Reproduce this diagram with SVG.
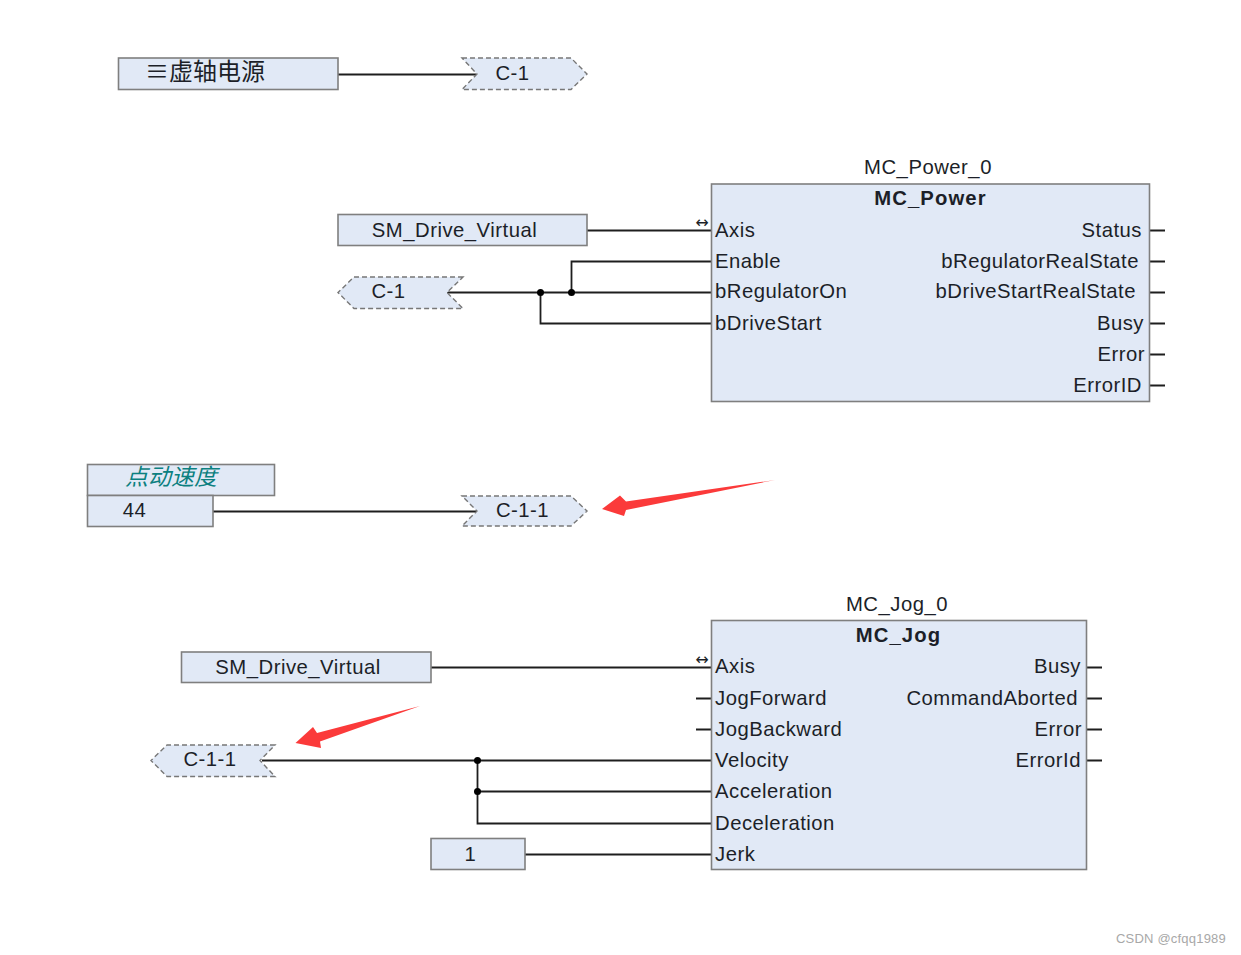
<svg xmlns="http://www.w3.org/2000/svg" width="1241" height="955" viewBox="0 0 1241 955">
<style>
text{font-family:"Liberation Sans",Arial,"Noto Sans CJK SC",sans-serif;font-size:20.300px;letter-spacing:.5px;fill:#1c1f28}
.m{text-anchor:middle}.e{text-anchor:end}
.b{font-weight:bold;letter-spacing:1.100px}
.box{fill:#e1e9f6;stroke:#7f7f7f;stroke-width:1.6}
.dash{fill:#e1e9f6;stroke:#777;stroke-width:1.4;stroke-dasharray:5 3}
.w{fill:none;stroke:#1e1e1e;stroke-width:1.8}
.d{fill:#000}
.red{fill:#fb3a3a}
.cn{font-family:"Noto Sans CJK SC","Liberation Sans",sans-serif;letter-spacing:0}
.sw{font-family:"DejaVu Sans",sans-serif;font-size:16px;letter-spacing:0}
</style>
<rect width="1241" height="955" fill="#fff"/>
<g id="connectors">
<path class="w" d="M338 74.500H477M587 230.500H711M447 292.500H711M711 261.500H571.500V292.500M540.500 292.500V323.500H711M1150 230.500H1165M1150 261.500H1165M1150 292.500H1165M1150 323.500H1165M1150 354.500H1165M1150 385.500H1165M213 511.500H477M431 667.500H711M696 698.500H711M696 729.500H711M262 760.500H711M477.500 760.500V823.500H711M477.500 791.500H711M525 854.500H711M1086 667.500H1102M1086 698.500H1102M1086 729.500H1102M1086 760.500H1102"/>
<circle class="d" cx="540.500" cy="292.500" r="3.500"/><circle class="d" cx="571.500" cy="292.500" r="3.500"/>
<circle class="d" cx="477.500" cy="760.500" r="3.500"/><circle class="d" cx="477.500" cy="791.500" r="3.500"/>
</g>
<g id="var-power"><rect class="box" x="118.500" y="58" width="219.500" height="31.500"/><text class="cn" x="145" y="80" style="font-size:24px">≡虚轴电源</text></g>
<g id="conn-c1-out"><path class="dash" d="M462 58H571L587 74L571 89.500H462L477 74Z"/><text class="m" x="512.500" y="80">C-1</text></g>
<g id="mc-power"><text class="m" x="928" y="174">MC_Power_0</text>
<rect class="box" x="711.500" y="184" width="438" height="217.500"/>
<text class="m b" x="930.500" y="205">MC_Power</text>
<text x="702" y="228" class="m sw">↔</text>
<text x="715" y="237">Axis</text><text x="715" y="268">Enable</text><text x="715" y="298">bRegulatorOn</text><text x="715" y="330">bDriveStart</text>
<text class="e" x="1142" y="237">Status</text><text class="e" x="1139" y="268">bRegulatorRealState</text><text class="e" x="1136" y="298">bDriveStartRealState</text><text class="e" x="1144" y="330">Busy</text><text class="e" x="1145" y="361">Error</text><text class="e" x="1142" y="392">ErrorID</text></g>
<g id="var-axis1"><rect class="box" x="338" y="214.500" width="249" height="31"/><text class="m" x="454.500" y="237">SM_Drive_Virtual</text></g>
<g id="conn-c1-in"><path class="dash" d="M463 277H354L338 292.500L354 308.500H463L447 292.500Z"/><text class="m" x="388.500" y="298">C-1</text></g>
<g id="var-speed"><rect class="box" x="87.500" y="464.500" width="187" height="31"/><text class="m cn" x="171" y="485" font-style="italic" style="font-size:23px;fill:#0c8080">点动速度</text>
<rect class="box" x="87.500" y="495.500" width="125.500" height="31"/><text class="m" x="134.500" y="517">44</text></g>
<g id="conn-c11-out"><path class="dash" d="M462 496H571L587 511L571 526H462L477 511Z"/><text class="m" x="522.500" y="517">C-1-1</text></g>
<path id="arrow-1" class="red" d="M775 480L626 501.500L620 495.500L602 509L624 516L626 510Z"/>
<g id="mc-jog"><text class="m" x="897" y="611">MC_Jog_0</text>
<rect class="box" x="711.500" y="620.500" width="375" height="249"/>
<text class="m b" x="898.500" y="642">MC_Jog</text>
<text x="702" y="665" class="m sw">↔</text>
<text x="715" y="673">Axis</text><text x="715" y="705">JogForward</text><text x="715" y="736">JogBackward</text><text x="715" y="767">Velocity</text><text x="715" y="798">Acceleration</text><text x="715" y="830">Deceleration</text><text x="715" y="861">Jerk</text>
<text class="e" x="1081" y="673">Busy</text><text class="e" x="1078" y="705">CommandAborted</text><text class="e" x="1082" y="736">Error</text><text class="e" x="1081" y="767">ErrorId</text></g>
<g id="var-axis2"><rect class="box" x="181.500" y="652" width="249.500" height="30.500"/><text class="m" x="298" y="674">SM_Drive_Virtual</text></g>
<g id="conn-c11-in"><path class="dash" d="M275 745H167L151 760.500L167 776.500H275L260 760.500Z"/><text class="m" x="210" y="766">C-1-1</text></g>
<g id="var-one"><rect class="box" x="431" y="838.500" width="94" height="31"/><text class="m" x="470.500" y="861">1</text></g>
<path id="arrow-2" class="red" d="M420 706L317 733L313 727L295.500 743L321 748L320 741.500Z"/>
<text id="watermark" x="1116" y="943" style="font-size:13px;fill:#a8a8a8;letter-spacing:.2px">CSDN @cfqq1989</text>
</svg>
